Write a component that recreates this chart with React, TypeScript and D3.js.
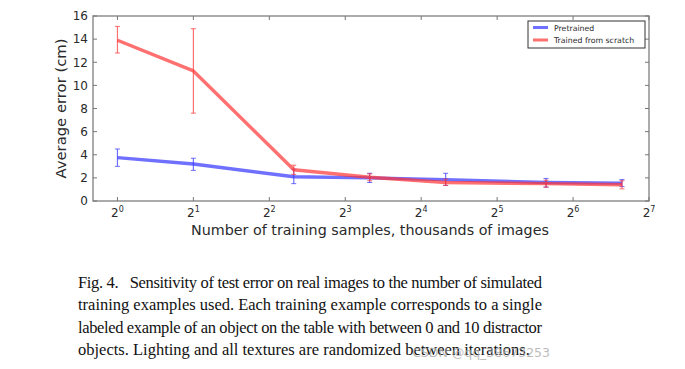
import React, { useEffect, useRef } from 'react';
import * as d3 from 'd3';

// thousands of training images
const samples = [1, 2, 5, 10, 20, 50, 100];

const pretrainedMean = [3.75, 3.2, 2.1, 2.0, 1.85, 1.6, 1.55];
const pretrainedLow = [3.0, 2.65, 1.5, 1.6, 1.35, 1.2, 1.25];
const pretrainedHigh = [4.5, 3.7, 2.75, 2.4, 2.4, 1.95, 1.85];

const scratchMean = [13.9, 11.25, 2.7, 2.05, 1.6, 1.5, 1.4];
const scratchLow = [12.8, 7.6, 2.3, 1.75, 1.35, 1.2, 1.05];
const scratchHigh = [15.1, 14.9, 3.1, 2.35, 1.9, 1.8, 1.75];

const yTicks = [0, 2, 4, 6, 8, 10, 12, 14, 16];
const xExponents = [0, 1, 2, 3, 4, 5, 6, 7];

const seriesNames = ['Pretrained', 'Trained from scratch'];
const seriesColors = ['#3333ff', '#ff3333'];

const captionLines = [
  'Fig. 4.   Sensitivity of test error on real images to the number of simulated',
  'training examples used. Each training example corresponds to a single',
  'labeled example of an object on the table with between 0 and 10 distractor',
  'objects. Lighting and all textures are randomized between iterations.',
];

const App = () => {
  const ref = useRef(null);

  useEffect(() => {
    const svg = d3.select(ref.current);
    svg.selectAll('*').remove();

    const left = 93, right = 649, top = 16, bottom = 201;
    const x = d3.scaleLog().base(2).domain([0.8, 128]).range([left, right]);
    const y = d3.scaleLinear().domain([0, 16]).range([bottom, top]);
    const axisFont = 'DejaVu Sans, sans-serif';
    const textColor = '#2a2a2a';

    const series = [
      { mean: pretrainedMean, low: pretrainedLow, high: pretrainedHigh },
      { mean: scratchMean, low: scratchLow, high: scratchHigh },
    ];

    const line = d3.line<number>()
      .x((_, i) => x(samples[i]))
      .y(d => y(d));

    series.forEach((s, k) => {
      const g = svg.append('g')
        .attr('stroke', seriesColors[k])
        .attr('stroke-opacity', 0.7);
      g.append('path')
        .attr('d', line(s.mean))
        .attr('fill', 'none')
        .attr('stroke-width', 3.4)
        .attr('stroke-linejoin', 'round');
      samples.forEach((v, i) => {
        g.append('line')
          .attr('x1', x(v)).attr('x2', x(v))
          .attr('y1', y(s.low[i])).attr('y2', y(s.high[i]))
          .attr('stroke-width', 1.2);
        [s.low[i], s.high[i]].forEach(e => {
          g.append('line')
            .attr('x1', x(v) - 2.5).attr('x2', x(v) + 2.5)
            .attr('y1', y(e)).attr('y2', y(e))
            .attr('stroke-width', 1);
        });
      });
    });

    // frame
    svg.append('rect')
      .attr('x', left).attr('y', top)
      .attr('width', right - left).attr('height', bottom - top)
      .attr('fill', 'none')
      .attr('stroke', '#888')
      .attr('stroke-width', 1.4);

    // y ticks
    yTicks.forEach(t => {
      svg.append('line').attr('x1', left).attr('x2', left + 4)
        .attr('y1', y(t)).attr('y2', y(t)).attr('stroke', '#777');
      svg.append('line').attr('x1', right).attr('x2', right - 4)
        .attr('y1', y(t)).attr('y2', y(t)).attr('stroke', '#777');
      svg.append('text')
        .attr('x', left - 5).attr('y', y(t) + 4.3)
        .attr('text-anchor', 'end')
        .attr('font-family', axisFont)
        .attr('font-size', 12)
        .attr('fill', textColor)
        .text(t);
    });

    // x ticks
    xExponents.forEach(p => {
      const xv = x(Math.pow(2, p));
      svg.append('line').attr('x1', xv).attr('x2', xv)
        .attr('y1', bottom).attr('y2', bottom - 4).attr('stroke', '#777');
      svg.append('line').attr('x1', xv).attr('x2', xv)
        .attr('y1', top).attr('y2', top + 4).attr('stroke', '#777');
      const t = svg.append('text')
        .attr('x', xv).attr('y', 217)
        .attr('text-anchor', 'middle')
        .attr('font-family', axisFont)
        .attr('font-size', 12)
        .attr('fill', textColor);
      t.append('tspan').text('2');
      t.append('tspan').attr('dy', -5.5).attr('font-size', 8).text(p);
    });

    svg.append('text')
      .attr('transform', `translate(66,${(top + bottom) / 2}) rotate(-90)`)
      .attr('text-anchor', 'middle')
      .attr('font-family', axisFont)
      .attr('font-size', 14.8)
      .attr('fill', textColor)
      .text('Average error (cm)');

    svg.append('text')
      .attr('x', 370).attr('y', 235)
      .attr('text-anchor', 'middle')
      .attr('font-family', axisFont)
      .attr('font-size', 14.3)
      .attr('fill', textColor)
      .text('Number of training samples, thousands of images');

    // legend
    const lg = svg.append('g');
    lg.append('rect')
      .attr('x', 528).attr('y', 21).attr('width', 117).attr('height', 27)
      .attr('fill', 'white').attr('stroke', '#333').attr('stroke-width', 1);
    seriesNames.forEach((n, k) => {
      const ly = 27.5 + k * 12.5;
      lg.append('line')
        .attr('x1', 533).attr('x2', 548).attr('y1', ly).attr('y2', ly)
        .attr('stroke', seriesColors[k]).attr('stroke-opacity', 0.7)
        .attr('stroke-width', 3);
      lg.append('text')
        .attr('x', 554).attr('y', ly + 3)
        .attr('font-family', axisFont)
        .attr('font-size', 7.8)
        .attr('fill', textColor)
        .text(n);
    });

    // caption
    captionLines.forEach((c, i) => {
      const t = svg.append('text')
        .attr('x', 78).attr('y', 288 + i * 22.3)
        .attr('font-family', 'Liberation Serif, serif')
        .attr('font-size', 16.5)
        .attr('fill', '#111')
        .attr('xml:space', 'preserve')
        .style('white-space', 'pre')
        .text(c);
      if (i < captionLines.length - 1) {
        t.attr('textLength', 464).attr('lengthAdjust', 'spacing');
      }
    });

    // watermark
    svg.append('text')
      .attr('x', 550).attr('y', 357)
      .attr('text-anchor', 'end')
      .attr('font-family', 'DejaVu Sans, sans-serif')
      .attr('font-size', 12.5)
      .attr('fill', '#aaa')
      .attr('fill-opacity', 0.8)
      .text('CSDN @qq_38673253');
  }, []);

  return (
    <svg
      ref={ref}
      width={685}
      height={369}
      style={{ position: 'absolute', left: 0, top: 0, background: 'white' }}
    />
  );
};

export default App;
